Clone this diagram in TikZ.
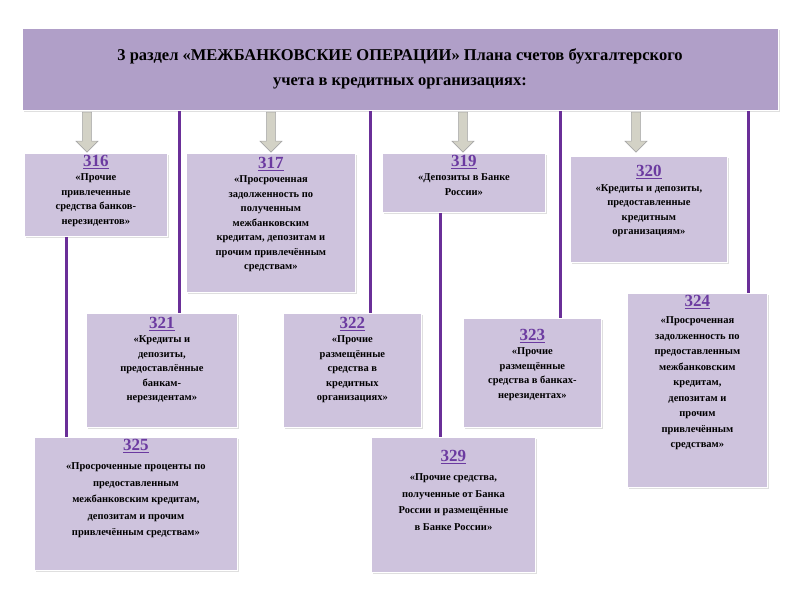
\documentclass[tikz,border=0pt]{standalone}
\usepackage{fontspec}
\setmainfont{Liberation Serif}
\usetikzlibrary{shapes.arrows,shadows}
\definecolor{hdr}{HTML}{B09FC8}
\definecolor{bx}{HTML}{CEC3DD}
\definecolor{ln}{HTML}{6A2F98}
\definecolor{num}{HTML}{6B3AA0}
\begin{document}
\begin{tikzpicture}[x=1pt,y=-1pt,
  box/.style={fill=bx,draw=white,line width=0.8pt,anchor=north west,inner sep=0pt,
    drop shadow={opacity=0.25,shadow xshift=1.5pt,shadow yshift=-1.5pt}},
  txt/.style={anchor=north,align=center,font=\bfseries\fontsize{10.5}{14.5}\selectfont,inner sep=1pt},
  vline/.style={draw=ln,line width=3pt},
  downarrow/.style={single arrow,draw=gray!70,fill=white!90!yellow!60!gray,shape border rotate=270,
    minimum height=40pt,text width=8pt,minimum width=22pt,single arrow head extend=6pt,inner sep=0pt,line width=0.6pt,anchor=north}]
\useasboundingbox (0,0) rectangle (800,600);
\newcommand{\nm}[1]{{\fontsize{17}{18}\selectfont\color{num}\underline{#1}}}
% header
\node[box,fill=hdr,minimum width=756pt,minimum height=82pt] (hdr) at (22,28) {};
\node[align=center,font=\bfseries\fontsize{16.5}{25}\selectfont] (ht) at (400,69) {3 раздел «МЕЖБАНКОВСКИЕ ОПЕРАЦИИ» Плана счетов бухгалтерского\\учета в кредитных организациях:};
% coordinates for line positions
\foreach \n/\x in {a/87,b/271,c/463,d/636,l1/66,l2/179,l3/370,l4/440,l5/560,l6/748}{\coordinate (\n) at (\x,0);}
% boxes
\node[box,minimum width=143pt,minimum height=83pt] (b316) at (24,153) {};
\node[box,minimum width=169pt,minimum height=139pt] (b317) at (186,153) {};
\node[box,minimum width=163pt,minimum height=59pt] (b319) at (382,153) {};
\node[box,minimum width=157pt,minimum height=106pt] (b320) at (570,156) {};
\node[box,minimum width=151pt,minimum height=114pt] (b321) at (86,313) {};
\node[box,minimum width=138pt,minimum height=114pt] (b322) at (283,313) {};
\node[box,minimum width=138pt,minimum height=109pt] (b323) at (463,318) {};
\node[box,minimum width=140pt,minimum height=194pt] (b324) at (627,293) {};
\node[box,minimum width=203pt,minimum height=133pt] (b325) at (34,437) {};
\node[box,minimum width=164pt,minimum height=135pt] (b329) at (371,437) {};
% arrows
\node[downarrow] (ar1) at ([yshift=-1pt]hdr.south -| a) {};
\node[downarrow] (ar2) at ([yshift=-1pt]hdr.south -| b) {};
\node[downarrow] (ar3) at ([yshift=-1pt]hdr.south -| c) {};
\node[downarrow] (ar4) at ([yshift=-1pt]hdr.south -| d) {};
% lines
\draw[vline] (hdr.south -| l2) -- (b321.north -| l2);
\draw[vline] (hdr.south -| l3) -- (b322.north -| l3);
\draw[vline] (hdr.south -| l5) -- (b323.north -| l5);
\draw[vline] (hdr.south -| l6) -- (b324.north -| l6);
\draw[vline] (b316.south -| l1) -- (b325.north -| l1);
\draw[vline] (b319.south -| l4) -- (b329.north -| l4);
% texts
\node[txt] (t316) at ([yshift=-1pt]b316.north) {\nm{316}\\«Прочие\\привлеченные\\средства банков-\\нерезидентов»};
\node[txt] (t317) at ([yshift=-3pt]b317.north) {\nm{317}\\«Просроченная\\задолженность по\\полученным\\межбанковским\\кредитам, депозитам и\\прочим привлечённым\\средствам»};
\node[txt] (t319) at ([yshift=-1pt]b319.north) {\nm{319}\\«Депозиты в Банке\\России»};
\node[txt] (t320) at ([yshift=-8pt]b320.north) {\nm{320}\\«Кредиты и депозиты,\\предоставленные\\кредитным\\организациям»};
\node[txt] (t321) at ([yshift=-3pt]b321.north) {\nm{321}\\«Кредиты и\\депозиты,\\предоставлённые\\банкам-\\нерезидентам»};
\node[txt] (t322) at ([yshift=-3pt]b322.north) {\nm{322}\\«Прочие\\размещённые\\средства в\\кредитных\\организациях»};
\node[txt] (t323) at ([yshift=-10pt]b323.north) {\nm{323}\\«Прочие\\размещённые\\средства в банках-\\нерезидентах»};
\node[txt,font=\bfseries\fontsize{10.5}{15.5}\selectfont] (t324) at ([yshift=-1pt]b324.north) {\nm{324}\\[2pt]«Просроченная\\задолженность по\\предоставленным\\межбанковским\\кредитам,\\депозитам и\\прочим\\привлечённым\\средствам»};
\node[txt,font=\bfseries\fontsize{10.5}{16.5}\selectfont] (t325) at ([yshift=-1pt]b325.north) {\nm{325}\\[3pt]«Просроченные проценты по\\предоставленным\\межбанковским кредитам,\\депозитам и прочим\\привлечённым средствам»};
\node[txt,font=\bfseries\fontsize{10.5}{16.5}\selectfont] (t329) at ([yshift=-12pt]b329.north) {\nm{329}\\[3pt]«Прочие средства,\\полученные от Банка\\России и размещённые\\в Банке России»};
\end{tikzpicture}
\end{document}
